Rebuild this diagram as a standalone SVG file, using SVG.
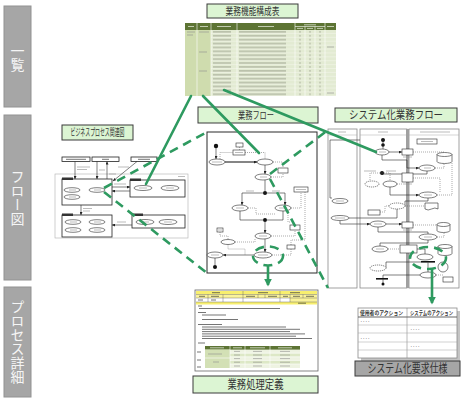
<svg xmlns="http://www.w3.org/2000/svg" width="474" height="400" viewBox="0 0 474 400">
<defs>
<style>
text{font-family:"Noto Sans CJK JP","Noto Sans",sans-serif}
.side{fill:#a6a6a6;stroke:#929292;stroke-width:1}
.sidet{font-size:14px;fill:#f5f5f5;writing-mode:vertical-rl;text-anchor:middle}
.ttl{fill:#dcf5d3;stroke:#3a3a3a;stroke-width:1}
.tt{fill:#333;text-anchor:middle}
.gl{stroke:#2e9a60;stroke-width:2.6;fill:none;stroke-linecap:round}
.gd{stroke:#2e9a60;stroke-width:2.6;fill:none;stroke-dasharray:9 6}
.ln{stroke:#2a2a2a;stroke-width:0.6;fill:none}
.dl{stroke:#555;stroke-width:0.5;fill:none;stroke-dasharray:1 1}
.nd{fill:#fff;stroke:#2a2a2a;stroke-width:0.6}
.ndd{fill:#fff;stroke:#2a2a2a;stroke-width:0.6;stroke-dasharray:1.2 0.8}
.ph{stroke:#8d8d8d;stroke-width:0.6}
.pk{stroke:#3a3a3a;stroke-width:0.7}
.pw{stroke:#eef2e6;stroke-width:0.7}
.bx{fill:#fff;stroke:#222;stroke-width:0.8}
.tab{fill:#333}
.dot{fill:#111}
.cell{stroke:#fff;stroke-width:0.6}
</style>
<marker id="ah" viewBox="0 0 6 6" refX="6" refY="3" markerWidth="3" markerHeight="3" markerUnits="userSpaceOnUse" orient="auto"><path d="M0,0L6,3L0,6z" fill="#222"/></marker>
<marker id="gah" viewBox="0 0 10 10" refX="8" refY="5" markerWidth="8" markerHeight="8" markerUnits="userSpaceOnUse" orient="auto"><path d="M0,0L10,5L0,10z" fill="#2e9a60"/></marker>
<pattern id="trows" x="185" y="30" width="151" height="3.9" patternUnits="userSpaceOnUse">
<rect width="151" height="3.9" fill="#e3ebd3"/>
<line x1="0" y1="3.7" x2="151" y2="3.7" stroke="#fbfdf7" stroke-width="0.5"/>
<line x1="28" y1="1.9" x2="46" y2="1.9" stroke="#7d8272" stroke-width="0.7"/>
<line x1="54" y1="1.9" x2="101" y2="1.9" stroke="#7d8272" stroke-width="0.7"/>
<line x1="114" y1="1.9" x2="116" y2="1.9" stroke="#8c9180" stroke-width="0.6"/>
<line x1="124" y1="1.9" x2="126" y2="1.9" stroke="#8c9180" stroke-width="0.6"/>
<line x1="134" y1="1.9" x2="136" y2="1.9" stroke="#8c9180" stroke-width="0.6"/>
</pattern>
</defs>
<rect width="474" height="400" fill="#fff"/>

<g id="side-list">
<rect class="side" x="4" y="6" width="27" height="101"/>
<text class="sidet" x="17.5" y="58">一覧</text>
</g>
<g id="side-flow">
<rect class="side" x="4" y="115" width="27" height="165"/>
<text class="sidet" x="17.5" y="198">フロー図</text>
</g>
<g id="side-detail">
<rect class="side" x="4" y="287" width="27" height="110"/>
<text class="sidet" x="17.5" y="342">プロセス詳細</text>
</g>

<g id="function-table-title">
<rect class="ttl" x="207" y="4" width="91" height="14"/>
<text class="tt" x="252.5" y="14.6" font-size="10" textLength="54" lengthAdjust="spacingAndGlyphs">業務機能構成表</text>
</g>
<g id="function-table">
<rect x="185" y="23" width="151" height="73" fill="url(#trows)"/>
<rect x="185" y="23" width="151" height="7" fill="#5d7434"/>
<rect x="185" y="30" width="26" height="66" fill="#cfdcae"/>
<line class="cell" x1="197" y1="23" x2="197" y2="96"/>
<line class="cell" x1="211" y1="23" x2="211" y2="96"/>
<line class="cell" x1="237" y1="23" x2="237" y2="96"/>
<line class="cell" x1="295" y1="23" x2="295" y2="96"/>
<line class="cell" x1="305" y1="26.5" x2="305" y2="96"/>
<line class="cell" x1="315" y1="26.5" x2="315" y2="96"/>
<line class="cell" x1="325" y1="23" x2="325" y2="96"/>
<line class="cell" x1="295" y1="26.5" x2="325" y2="26.5"/>
<line class="pw" x1="188" y1="26.5" x2="194" y2="26.5"/>
<line class="pw" x1="200" y1="26.5" x2="208" y2="26.5"/>
<line class="pw" x1="217" y1="26.5" x2="231" y2="26.5"/>
<line class="pw" x1="258" y1="26.5" x2="274" y2="26.5"/>
<line class="pw" x1="304" y1="24.8" x2="316" y2="24.8"/>
<line class="pw" x1="297" y1="28.4" x2="303" y2="28.4"/>
<line class="pw" x1="307" y1="28.4" x2="313" y2="28.4"/>
<line class="pw" x1="317" y1="28.4" x2="323" y2="28.4"/>
<line class="pw" x1="327" y1="26.5" x2="334" y2="26.5"/>
<line class="ph" x1="187" y1="32" x2="195" y2="32"/>
<line class="ph" x1="187" y1="35" x2="193" y2="35"/>
<line class="ph" x1="199" y1="32" x2="209" y2="32"/>
<line class="ph" x1="199" y1="52" x2="207" y2="52"/>
<line class="ph" x1="199" y1="71" x2="207" y2="71"/>
<line class="ph" x1="327" y1="47" x2="334" y2="47"/>
<line class="ph" x1="327" y1="93" x2="334" y2="93"/>
</g>

<g id="bpr-title">
<rect class="ttl" x="62" y="125" width="71" height="15"/>
<text class="tt" x="97.5" y="136.2" font-size="10" textLength="54" lengthAdjust="spacingAndGlyphs">ビジネスプロセス関連図</text>
</g>
<g id="bpr-diagram">
<rect x="55" y="174" width="133" height="64" fill="#fff" stroke="#b0b0b0" stroke-width="0.6"/>
<line class="ph" x1="178" y1="176.5" x2="185" y2="176.5"/>
<rect class="bx" x="62" y="157" width="28" height="4.5"/>
<rect class="bx" x="92" y="157" width="27" height="4.5"/>
<rect class="bx" x="131" y="157" width="26" height="4.5"/>
<line class="pk" x1="66" y1="159.3" x2="86" y2="159.3"/>
<line class="pk" x1="102" y1="159.3" x2="109" y2="159.3"/>
<line class="pk" x1="138" y1="159.3" x2="150" y2="159.3"/>
<line class="ln" x1="75" y1="161.5" x2="75" y2="179" marker-end="url(#ah)"/>
<line class="ln" x1="97" y1="161.5" x2="97" y2="179" marker-end="url(#ah)"/>
<line class="ln" x1="107" y1="179" x2="107" y2="161.5" marker-end="url(#ah)"/>
<line class="ln" x1="137" y1="161.5" x2="113" y2="181" marker-end="url(#ah)"/>
<line class="ph" x1="77" y1="167" x2="90" y2="167"/>
<line class="ph" x1="77" y1="169.5" x2="87" y2="169.5"/>
<line class="ph" x1="99" y1="170" x2="105" y2="170"/>
<line class="ph" x1="109" y1="174" x2="116" y2="174"/>
<line class="ph" x1="118" y1="167" x2="129" y2="167"/>
<rect class="bx" x="62" y="179" width="50" height="26"/>
<rect class="tab" x="62" y="177.5" width="11" height="2.5"/>
<rect class="bx" x="130" y="180" width="55" height="17"/>
<rect class="tab" x="130" y="178.5" width="11" height="2.5"/>
<rect class="bx" x="62" y="215" width="50" height="22"/>
<rect class="tab" x="62" y="213.5" width="11" height="2.5"/>
<rect class="bx" x="132" y="215" width="53" height="13"/>
<rect class="tab" x="132" y="213.5" width="11" height="2.5"/>
<ellipse class="nd" cx="72" cy="190" rx="8" ry="2.3"/>
<ellipse class="nd" cx="97" cy="190" rx="8" ry="2.3"/>
<ellipse class="nd" cx="72" cy="197" rx="8" ry="2.3"/>
<ellipse class="nd" cx="143" cy="188" rx="9" ry="2.5"/>
<ellipse class="nd" cx="170" cy="188" rx="9" ry="2.5"/>
<ellipse class="nd" cx="73" cy="222" rx="8" ry="2.3"/>
<ellipse class="nd" cx="97" cy="222" rx="8" ry="2.3"/>
<ellipse class="nd" cx="73" cy="230" rx="8" ry="2.3"/>
<ellipse class="nd" cx="97" cy="230" rx="8" ry="2.3"/>
<ellipse class="nd" cx="145" cy="222" rx="9" ry="2.5"/>
<ellipse class="nd" cx="168" cy="222" rx="9" ry="2.5"/>
<line class="ph" x1="69" y1="190" x2="76" y2="190"/>
<line class="ph" x1="94" y1="190" x2="101" y2="190"/>
<line class="ph" x1="69" y1="197" x2="76" y2="197"/>
<line class="ph" x1="139" y1="188" x2="147" y2="188"/>
<line class="ph" x1="166" y1="188" x2="174" y2="188"/>
<line class="ph" x1="70" y1="222" x2="77" y2="222"/>
<line class="ph" x1="94" y1="222" x2="101" y2="222"/>
<line class="ph" x1="70" y1="230" x2="77" y2="230"/>
<line class="ph" x1="94" y1="230" x2="101" y2="230"/>
<line class="ph" x1="141" y1="222" x2="149" y2="222"/>
<line class="ph" x1="164" y1="222" x2="172" y2="222"/>
<line class="ln" x1="112" y1="187" x2="130" y2="187" marker-end="url(#ah)"/>
<line class="ln" x1="130" y1="191" x2="112" y2="191" marker-end="url(#ah)"/>
<line class="ph" x1="114" y1="184" x2="126" y2="184"/>
<line class="ln" x1="81" y1="205" x2="81" y2="215" marker-end="url(#ah)"/>
<line class="ph" x1="83" y1="208.5" x2="92" y2="208.5"/>
<line class="ph" x1="83" y1="211" x2="90" y2="211"/>
<line class="ln" x1="132" y1="225" x2="112" y2="225" marker-end="url(#ah)"/>
<line class="ph" x1="117" y1="222" x2="126" y2="222"/>
</g>

<g id="business-flow-title">
<rect class="ttl" x="198" y="107" width="120" height="16"/>
<text class="tt" x="256" y="118.6" font-size="10" textLength="36" lengthAdjust="spacingAndGlyphs">業務フロー</text>
</g>
<g id="business-flow">
<rect x="207" y="132" width="110" height="141" fill="#fff" stroke="#2a2a2a" stroke-width="1"/>
<circle class="dot" cx="216" cy="146" r="2.2"/>
<line class="ln" x1="216" y1="148" x2="216" y2="159" marker-end="url(#ah)"/>
<ellipse class="nd" cx="217" cy="162" rx="8" ry="3"/>
<rect class="nd" x="233" y="150" width="12" height="5"/>
<rect class="nd" x="236" y="143" width="7" height="4"/>
<path class="dl" d="M220,159 V152.5 H233"/>
<line class="dl" x1="239.5" y1="147" x2="239.5" y2="150"/>
<path class="dl" d="M245,152.5 H265 V159"/>
<line x1="225" y1="162" x2="257" y2="162" stroke="#222" stroke-width="1.1" marker-end="url(#ah)"/>
<ellipse class="nd" cx="265" cy="162" rx="8" ry="3"/>
<path class="dl" d="M273,162 H283 V168"/>
<rect class="nd" x="278" y="168" width="10" height="5"/>
<line class="ln" x1="265" y1="165" x2="265" y2="174" marker-end="url(#ah)"/>
<ellipse class="nd" cx="263" cy="177" rx="8" ry="3"/>
<path class="dl" d="M271,177 H283 V173"/>
<line class="ln" x1="265" y1="180" x2="265" y2="191"/>
<circle class="dot" cx="265" cy="193" r="2"/>
<path class="ln" d="M265,193 H242 V205" marker-end="url(#ah)"/>
<path class="ln" d="M265,193 H285 V205" marker-end="url(#ah)"/>
<line class="ph" x1="246" y1="191" x2="254" y2="191"/>
<line class="ph" x1="272" y1="191" x2="280" y2="191"/>
<ellipse class="nd" cx="240" cy="208" rx="8" ry="3"/>
<ellipse class="nd" cx="283" cy="208" rx="8" ry="3"/>
<rect class="nd" x="294" y="187" width="14" height="5"/>
<path class="dl" d="M291,208 H301 V192"/>
<path class="dl" d="M248,208 H256 V214 H276"/>
<path class="ln" d="M240,211 V220 H263"/>
<path class="ln" d="M283,211 V220 H267"/>
<circle class="dot" cx="265" cy="220" r="2"/>
<line class="ln" x1="265" y1="222" x2="265" y2="233" marker-end="url(#ah)"/>
<ellipse class="nd" cx="263" cy="236" rx="8" ry="3"/>
<rect class="nd" x="290" y="225" width="10" height="5"/>
<path class="dl" d="M271,236 H295 V230"/>
<path class="dl" d="M288,211 V222 H290"/>
<path class="dl" d="M305,192 V240 H291 V245"/>
<rect class="nd" x="217" y="228" width="6" height="4"/>
<line class="ph" x1="218" y1="230" x2="222" y2="230"/>
<ellipse class="nd" cx="228" cy="242" rx="7" ry="2.5"/>
<path class="dl" d="M220,232 V236 H228 V239.5"/>
<path class="dl" d="M235,242 H255 V238"/>
<rect class="nd" x="287" y="245" width="8" height="4"/>
<path class="dl" d="M272,255 H291 V249"/>
<line class="ln" x1="265" y1="239" x2="265" y2="252" marker-end="url(#ah)"/>
<ellipse class="nd" cx="263" cy="255" rx="9" ry="3"/>
<line class="ln" x1="254" y1="255" x2="223" y2="255" marker-end="url(#ah)"/>
<ellipse class="nd" cx="215" cy="255" rx="8" ry="3"/>
<path class="dl" d="M228,244.5 V249 H245 V255"/>
<line class="ln" x1="215" y1="258" x2="215" y2="265"/>
<circle class="dot" cx="215" cy="267" r="2"/>
<line class="ph" x1="212" y1="162" x2="222" y2="162"/>
<line class="ph" x1="260" y1="177" x2="267" y2="177"/>
<line class="ph" x1="236" y1="208" x2="244" y2="208"/>
<line class="ph" x1="279" y1="208" x2="287" y2="208"/>
<line class="ph" x1="259" y1="236" x2="267" y2="236"/>
<line class="ph" x1="258" y1="255" x2="268" y2="255"/>
<line class="ph" x1="211" y1="255" x2="219" y2="255"/>
<line class="ph" x1="235" y1="152.5" x2="243" y2="152.5"/>
<line class="ph" x1="296" y1="189.5" x2="306" y2="189.5"/>
</g>

<g id="system-flow-title">
<rect class="ttl" x="335" y="108" width="122" height="14"/>
<text class="tt" x="396" y="119" font-size="11" textLength="94" lengthAdjust="spacingAndGlyphs">システム化業務フロー</text>
</g>
<g id="system-flow">
<rect x="328" y="129" width="29" height="159" fill="#fff" stroke="#8a8a8a" stroke-width="0.8"/>
<rect x="360" y="129" width="47" height="159" fill="#fff" stroke="#8a8a8a" stroke-width="0.8"/>
<rect x="409" y="129" width="50" height="159" fill="#fff" stroke="#8a8a8a" stroke-width="0.8"/>
<line x1="328" y1="135" x2="357" y2="135" stroke="#aaa" stroke-width="0.5"/>
<line x1="360" y1="135" x2="407" y2="135" stroke="#aaa" stroke-width="0.5"/>
<line x1="409" y1="135" x2="459" y2="135" stroke="#aaa" stroke-width="0.5"/>
<line class="ph" x1="338" y1="132" x2="346" y2="132"/>
<line class="ph" x1="378" y1="132" x2="388" y2="132"/>
<line class="ph" x1="420" y1="132" x2="450" y2="132"/>
<rect x="406" y="129" width="3" height="159" fill="#a0a0a0"/>
<circle class="dot" cx="383" cy="140" r="2"/>
<circle class="dot" cx="383" cy="145" r="1.8"/>
<line class="ln" x1="383" y1="140" x2="383" y2="149"/>
<ellipse class="nd" cx="382" cy="152" rx="7" ry="3"/>
<line class="ln" x1="389" y1="152" x2="402" y2="152" marker-end="url(#ah)"/>
<rect class="nd" x="402" y="149" width="11" height="6"/>
<rect class="nd" x="417" y="139" width="20" height="5"/>
<path class="dl" d="M413,152 H444 V153"/>
<path class="nd" d="M437,154.5 a7.5,2 0 0 1 15,0 v7 a7.5,2 0 0 1 -15,0z"/>
<path class="ln" d="M437,154.5 a7.5,2 0 0 0 15,0"/>
<path class="ln" d="M382,155 V160 H407 V168 H419" marker-end="url(#ah)"/>
<ellipse class="nd" cx="427" cy="168" rx="8" ry="3"/>
<path class="dl" d="M435,168 H444 V163.5"/>
<path class="ln" d="M427,171 V174 H382"/>
<circle class="dot" cx="382" cy="173" r="2"/>
<path class="dl" d="M382,173 H370 V181"/>
<path class="dl" d="M382,173 H390 V181"/>
<line class="ph" x1="364" y1="171" x2="376" y2="171"/>
<line class="ph" x1="386" y1="171" x2="396" y2="171"/>
<ellipse class="ndd" cx="372" cy="184" rx="7" ry="3"/>
<ellipse class="nd" cx="390" cy="184" rx="7" ry="3"/>
<rect class="nd" x="402" y="173" width="11" height="9"/>
<path class="dl" d="M397,184 H402"/>
<path class="ln" d="M390,187 V195 H419" marker-end="url(#ah)"/>
<path class="dl" d="M413,178 H440 V192"/>
<ellipse class="nd" cx="428" cy="195" rx="9" ry="3"/>
<path class="dl" d="M437,195 H452 V162"/>
<path class="ln" d="M330,140 V198 H332"/>
<line class="ln" x1="330" y1="140" x2="360" y2="140"/>
<ellipse class="nd" cx="340" cy="201" rx="8" ry="2.5"/>
<path class="ln" d="M428,198 V201 H405 V206"/>
<ellipse class="ndd" cx="397" cy="206" rx="8" ry="3"/>
<path class="nd" d="M425,203 h13 v6 q-3,-2 -6.5,0 t-6.5,0z"/>
<path class="dl" d="M405,206 H425"/>
<rect class="nd" x="368" y="210" width="12" height="5"/>
<path class="dl" d="M389,206 H385 V212 H380"/>
<path class="ln" d="M397,209 V218 H349"/>
<ellipse class="nd" cx="340" cy="218" rx="9" ry="2.5"/>
<path class="ln" d="M340,221 V224 H370" marker-end="url(#ah)"/>
<ellipse class="nd" cx="378" cy="224" rx="8" ry="3"/>
<line class="ln" x1="386" y1="224" x2="402" y2="224" marker-end="url(#ah)"/>
<rect class="nd" x="402" y="222" width="11" height="6"/>
<path class="dl" d="M413,225 H437"/>
<path class="nd" d="M437,224.5 a6.5,2 0 0 1 13,0 v6 a6.5,2 0 0 1 -13,0z"/>
<path class="ln" d="M437,224.5 a6.5,2 0 0 0 13,0"/>
<path class="ln" d="M378,227 V232 H428 V234"/>
<ellipse class="nd" cx="428" cy="237" rx="9" ry="3"/>
<path class="dl" d="M437,237 H444 V232"/>
<path class="ln" d="M428,240 V243 H380 V246"/>
<ellipse class="nd" cx="380" cy="249" rx="8" ry="3"/>
<path class="dl" d="M388,249 H400"/>
<rect class="nd" x="400" y="245" width="17" height="8"/>
<path class="nd" d="M438,246.5 a7,2 0 0 1 14,0 v7 a7,2 0 0 1 -14,0z"/>
<path class="ln" d="M438,246.5 a7,2 0 0 0 14,0"/>
<path class="ln" d="M417,249 H425 V254"/>
<ellipse class="nd" cx="425" cy="257" rx="8" ry="3"/>
<rect class="dot" x="421" y="261" width="14" height="1.6"/>
<path class="ln" d="M421,262 H386 V268"/>
<ellipse class="ndd" cx="378" cy="268" rx="8" ry="3"/>
<circle class="nd" cx="443" cy="267" r="5"/>
<path class="ln" d="M428,262.5 V272"/>
<ellipse class="nd" cx="428" cy="275" rx="8" ry="3"/>
<rect class="nd" x="443" y="277" width="10" height="5"/>
<path class="dl" d="M436,275 H443"/>
<path class="ln" d="M420,275 H383 V278"/>
<rect class="dot" x="376" y="278" width="12" height="1.6"/>
<line class="ln" x1="383" y1="279" x2="383" y2="283"/>
<circle class="dot" cx="383" cy="284" r="1.5"/>
<line class="ph" x1="379" y1="152" x2="386" y2="152"/>
<line class="ph" x1="424" y1="168" x2="431" y2="168"/>
<line class="ph" x1="424" y1="195" x2="432" y2="195"/>
<line class="ph" x1="336" y1="201" x2="344" y2="201"/>
<line class="ph" x1="335" y1="218" x2="345" y2="218"/>
<line class="ph" x1="374" y1="224" x2="382" y2="224"/>
<line class="ph" x1="424" y1="237" x2="432" y2="237"/>
<line class="ph" x1="376" y1="249" x2="384" y2="249"/>
<line class="ph" x1="421" y1="141.5" x2="433" y2="141.5"/>
<line class="ph" x1="403" y1="157" x2="412" y2="157"/>
<line class="ph" x1="403" y1="184" x2="412" y2="184"/>
<line class="ph" x1="403" y1="230" x2="412" y2="230"/>
</g>

<g id="process-definition">
<rect x="195" y="290" width="123" height="81" fill="#fff" stroke="#666" stroke-width="0.8"/>
<rect x="196" y="291" width="121" height="3.5" fill="#f8ef6e"/>
<rect x="196" y="294.5" width="121" height="3.5" fill="#faf39a"/>
<rect x="290" y="298" width="27" height="4" fill="#faf39a"/>
<rect x="196" y="302" width="121" height="2.5" fill="#f8ef6e"/>
<g stroke="#555" stroke-width="0.4">
<line x1="196" y1="294.5" x2="317" y2="294.5"/>
<line x1="196" y1="298" x2="317" y2="298"/>
<line x1="196" y1="302" x2="317" y2="302"/>
<line x1="243" y1="291" x2="243" y2="302"/>
<line x1="280" y1="291" x2="280" y2="302"/>
<line x1="208" y1="294.5" x2="208" y2="302"/>
<line x1="223" y1="294.5" x2="223" y2="302"/>
<line x1="258" y1="294.5" x2="258" y2="298"/>
<line x1="265" y1="294.5" x2="265" y2="298"/>
<line x1="290" y1="294.5" x2="290" y2="302"/>
<line x1="303" y1="294.5" x2="303" y2="298"/>
</g>
<g class="pk">
<line x1="212" y1="292.7" x2="220" y2="292.7"/>
<line x1="258" y1="292.7" x2="268" y2="292.7"/>
<line x1="290" y1="292.7" x2="300" y2="292.7"/>
<line x1="199" y1="296.3" x2="205" y2="296.3"/>
<line x1="211" y1="296.3" x2="219" y2="296.3"/>
<line x1="246" y1="296.3" x2="255" y2="296.3"/>
<line x1="268" y1="296.3" x2="277" y2="296.3"/>
<line x1="283" y1="296.3" x2="288" y2="296.3"/>
<line x1="293" y1="296.3" x2="300" y2="296.3"/>
<line x1="306" y1="296.3" x2="314" y2="296.3"/>
<line x1="198" y1="300" x2="203" y2="300"/>
<line x1="211" y1="300" x2="216" y2="300"/>
<line x1="298" y1="303.2" x2="306" y2="303.2"/>
<line x1="198" y1="306" x2="202" y2="306"/>
<line x1="199" y1="308.5" x2="280" y2="308.5"/>
<line x1="198" y1="312.5" x2="206" y2="312.5"/>
<line x1="202" y1="315" x2="226" y2="315"/>
<line x1="202" y1="319.5" x2="238" y2="319.5"/>
<line x1="198" y1="324.5" x2="222" y2="324.5"/>
<line x1="202" y1="327" x2="286" y2="327"/>
<line x1="202" y1="329.3" x2="300" y2="329.3"/>
<line x1="202" y1="331.6" x2="290" y2="331.6"/>
<line x1="202" y1="333.9" x2="305" y2="333.9"/>
<line x1="202" y1="336.2" x2="296" y2="336.2"/>
<line x1="202" y1="338.5" x2="312" y2="338.5"/>
<line x1="198" y1="343" x2="205" y2="343"/>
<line x1="197" y1="352" x2="201" y2="352"/>
<line x1="197" y1="360" x2="201" y2="360"/>
<line x1="197" y1="367" x2="201" y2="367"/>
</g>
<rect x="205" y="346" width="95" height="22" fill="#eef3e2"/>
<rect x="205" y="346" width="95" height="3.6" fill="#5d7434"/>
<rect x="205" y="349.6" width="25" height="18.4" fill="#d3e0b5"/>
<rect x="230" y="353.2" width="70" height="3.6" fill="#dde8c6"/>
<rect x="230" y="360.4" width="70" height="3.6" fill="#dde8c6"/>
<g class="cell">
<line x1="230" y1="346" x2="230" y2="368"/>
<line x1="245" y1="346" x2="245" y2="368"/>
<line x1="270" y1="346" x2="270" y2="368"/>
<line x1="230" y1="353.2" x2="300" y2="353.2"/>
<line x1="230" y1="356.8" x2="300" y2="356.8"/>
<line x1="230" y1="360.4" x2="300" y2="360.4"/>
<line x1="230" y1="364" x2="300" y2="364"/>
<line x1="205" y1="358" x2="230" y2="358"/>
</g>
<g class="pw">
<line x1="210" y1="347.8" x2="224" y2="347.8"/>
<line x1="233" y1="347.8" x2="242" y2="347.8"/>
<line x1="250" y1="347.8" x2="265" y2="347.8"/>
<line x1="278" y1="347.8" x2="292" y2="347.8"/>
</g>
<g class="ph">
<line x1="208" y1="354" x2="222" y2="354"/>
<line x1="213" y1="362" x2="219" y2="362"/>
<line x1="234" y1="351.4" x2="240" y2="351.4"/>
<line x1="253" y1="351.4" x2="262" y2="351.4"/>
<line x1="280" y1="351.4" x2="290" y2="351.4"/>
<line x1="234" y1="355" x2="240" y2="355"/>
<line x1="253" y1="355" x2="262" y2="355"/>
<line x1="280" y1="355" x2="290" y2="355"/>
<line x1="234" y1="358.6" x2="240" y2="358.6"/>
<line x1="253" y1="358.6" x2="262" y2="358.6"/>
<line x1="280" y1="358.6" x2="290" y2="358.6"/>
<line x1="234" y1="362.2" x2="240" y2="362.2"/>
<line x1="253" y1="362.2" x2="262" y2="362.2"/>
<line x1="280" y1="362.2" x2="290" y2="362.2"/>
<line x1="234" y1="366" x2="240" y2="366"/>
<line x1="253" y1="366" x2="262" y2="366"/>
<line x1="280" y1="366" x2="290" y2="366"/>
</g>
</g>
<g id="process-definition-title">
<rect class="ttl" x="193" y="376" width="125" height="17"/>
<text class="tt" x="255.5" y="389" font-size="12" textLength="56" lengthAdjust="spacingAndGlyphs">業務処理定義</text>
</g>

<g id="system-spec">
<rect x="361" y="311" width="99" height="50" fill="#c4c4c4"/>
<rect x="358" y="308" width="99" height="50" fill="#fff" stroke="#8a8a8a" stroke-width="0.8"/>
<line x1="407" y1="308" x2="407" y2="358" stroke="#8a8a8a" stroke-width="0.6"/>
<line x1="358" y1="317" x2="457" y2="317" stroke="#555" stroke-width="0.9"/>
<line x1="358" y1="325" x2="457" y2="325" stroke="#a0a0a0" stroke-width="0.5"/>
<line x1="358" y1="333" x2="457" y2="333" stroke="#a0a0a0" stroke-width="0.5"/>
<line x1="358" y1="342" x2="457" y2="342" stroke="#a0a0a0" stroke-width="0.5"/>
<line x1="358" y1="350" x2="457" y2="350" stroke="#a0a0a0" stroke-width="0.5"/>
<text x="381.5" y="314.8" font-size="5.5" font-weight="bold" fill="#333" text-anchor="middle" textLength="43" lengthAdjust="spacingAndGlyphs">使用者のアクション</text>
<text x="431.5" y="314.8" font-size="5.5" font-weight="bold" fill="#333" text-anchor="middle" textLength="43" lengthAdjust="spacingAndGlyphs">システムのアクション</text>
<text x="360" y="322.5" font-size="5" fill="#555" textLength="10" lengthAdjust="spacingAndGlyphs">・・・・</text>
<text x="410" y="331" font-size="5" fill="#555" textLength="10" lengthAdjust="spacingAndGlyphs">・・・・</text>
<text x="360" y="339.5" font-size="5" fill="#555" textLength="10" lengthAdjust="spacingAndGlyphs">・・・・</text>
<text x="410" y="348" font-size="5" fill="#555" textLength="10" lengthAdjust="spacingAndGlyphs">・・・・</text>
</g>
<g id="system-spec-title">
<rect x="355" y="361" width="105" height="15" fill="#a6a6a6" stroke="#3a3a3a" stroke-width="1"/>
<text class="tt" x="407.5" y="372.6" font-size="12" textLength="80" lengthAdjust="spacingAndGlyphs">システム化要求仕様</text>
</g>

<g id="connectors">
<line class="gl" x1="191" y1="96" x2="146" y2="184"/>
<line class="gl" x1="203" y1="96" x2="259" y2="153"/>
<line class="gl" x1="224" y1="90" x2="376" y2="152"/>
<line class="gd" x1="104" y1="188" x2="207" y2="132"/>
<line class="gd" x1="104" y1="192" x2="207" y2="273"/>
<line class="gd" x1="270" y1="174" x2="328" y2="130"/>
<line class="gd" x1="270" y1="179" x2="328" y2="288"/>
<ellipse class="gd" cx="268" cy="256" rx="15" ry="9.5" stroke-dasharray="8 7"/>
<ellipse class="gd" cx="428" cy="258" rx="18" ry="11" stroke-dasharray="8 7"/>
<line x1="268" y1="266" x2="268" y2="285" stroke="#2e9a60" stroke-width="2.6" marker-end="url(#gah)"/>
<line x1="432" y1="268" x2="432" y2="303" stroke="#2e9a60" stroke-width="2.6" marker-end="url(#gah)"/>
</g>
</svg>
